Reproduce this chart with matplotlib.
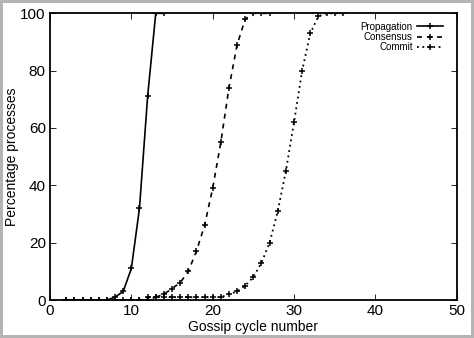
import numpy as np
import matplotlib
matplotlib.use("Agg")
import matplotlib.pyplot as plt

# Percentage of processes reached at each gossip cycle
prop_cycles = list(range(2, 15))
prop_pct = [0, 0, 0, 0, 0, 0, 1, 3, 11, 32, 71, 100, 100]

cons_cycles = list(range(2, 28))
cons_pct = [0, 0, 0, 0, 0, 0, 0, 0, 0, 0, 1, 1, 2, 4, 6, 10, 17, 26, 39, 55,
            74, 89, 98, 100, 100, 100]

comm_cycles = list(range(10, 37))
comm_pct = [0, 0, 0, 1, 1, 1, 1, 1, 1, 1, 1, 1, 2, 3, 5, 8, 13, 20, 31, 45,
            62, 80, 93, 99, 100, 100, 100]

plt.rcParams['font.family'] = ['Liberation Sans', 'DejaVu Sans']

fig = plt.figure(figsize=(4.74, 3.38), dpi=100)
fig.patch.set_facecolor("white")
fig.patch.set_edgecolor("#b4b4b4")
fig.patch.set_linewidth(4)
ax = fig.add_axes([0.1055, 0.1124, 0.858, 0.8482])

mk = dict(marker="+", markersize=4.5, markeredgewidth=1.1, color="black")
ax.plot(prop_cycles, prop_pct, linestyle="-", linewidth=1.2,
        label="Propagation", **mk)
ax.plot(cons_cycles, cons_pct, linestyle=(0, (3, 3)), linewidth=1.2,
        label="Consensus", **mk)
ax.plot(comm_cycles, comm_pct, linestyle=(0, (1, 2)), linewidth=1.3,
        label="Commit", **mk)

ax.set_xlim(0, 50)
ax.set_ylim(0, 100)
ax.set_xticks([0, 10, 20, 30, 40, 50])
ax.set_yticks([0, 20, 40, 60, 80, 100])
ax.tick_params(direction="in", length=4, width=0.6, labelsize=11,
               top=True, right=True, pad=3)
for s in ax.spines.values():
    s.set_linewidth(1.3)

ax.set_xlabel("Gossip cycle number", fontsize=10, labelpad=1)
ax.set_ylabel("Percentage processes", fontsize=10, labelpad=1)

leg = ax.legend(loc="upper right", bbox_to_anchor=(0.975, 0.985),
                frameon=False, fontsize=7, markerfirst=False,
                handlelength=2.6, handletextpad=0.5,
                labelspacing=0.05, borderaxespad=0.0)
for t in leg.get_texts():
    t.set_ha("right")
leg._legend_box.align = "right"

fig.savefig("out.png", dpi=100, facecolor=fig.get_facecolor(),
            edgecolor=fig.get_edgecolor())
